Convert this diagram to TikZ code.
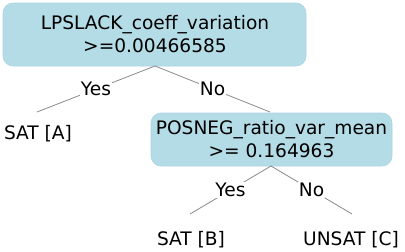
\documentclass[tikz,border=0pt]{standalone}
\usepackage{fontspec}
\setmainfont{DejaVu Sans}
\begin{document}
\begin{tikzpicture}[x=1pt,y=-1pt,
  every node/.style={font=\fontsize{18.6}{23}\selectfont, inner sep=0pt},
  splitbox/.style={draw=boxedge, fill=boxfill, rounded corners=10pt, line width=0.6pt},
  splittext/.style={align=center},
  edgeline/.style={draw=linegray, line width=0.8pt},
  lbl/.style={fill=white, inner xsep=0.5pt, inner ysep=1pt}]
\definecolor{boxfill}{HTML}{B4DCE6}
\definecolor{boxedge}{HTML}{AAD4E0}
\definecolor{linegray}{HTML}{8A8A8A}
\useasboundingbox (0,0) rectangle (405,252);
\path[splitbox] (3,3) rectangle (306,66);
\node[splittext] (root) at (155,34.5) {LPSLACK\_coeff\_variation\\>=0.00466585};
\coordinate (roottip) at (155,66);
\path[splitbox] (151,113) rectangle (392,166);
\node[splittext] (posneg) at (271.5,139.5) {POSNEG\_ratio\_var\_mean\\>= 0.164963};
\coordinate (postip) at (271,166);
\coordinate (aend) at (37,112);
\coordinate (cend) at (270,112);
\coordinate (bend) at (190,214);
\coordinate (dend) at (352,214);
\node (satA) at (38,134) {SAT [A]};
\node (satB) at (191,240) {SAT [B]};
\node (unsatC) at (351,240) {UNSAT [C]};
\draw[edgeline] (roottip) -- (aend) node[lbl, midway] (yes1) {Yes};
\draw[edgeline] (roottip) -- (cend) node[lbl, midway] (no1) {No};
\draw[edgeline] (postip) -- (bend) node[lbl, midway] (yes2) {Yes};
\draw[edgeline] (postip) -- (dend) node[lbl, midway] (no2) {No};
\end{tikzpicture}
\end{document}
